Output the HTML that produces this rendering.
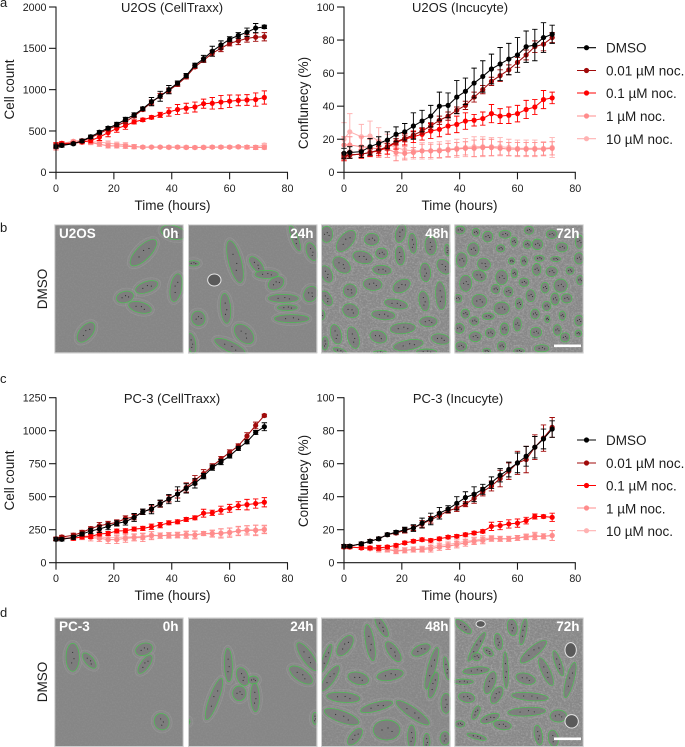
<!DOCTYPE html>
<html lang="en">
<head>
<meta charset="utf-8">
<title>Cell growth under nocodazole</title>
<style>
html,body{margin:0;padding:0;background:#fff;width:685px;height:747px;overflow:hidden}
svg#fig{display:block;font-family:"Liberation Sans",Arial,sans-serif;fill:#1c1c1c}
.tick{font-size:10.7px}
.ax{font-size:13.5px}
.ttl{font-size:13px}
.leg{font-size:13.5px}
.ltr{font-size:13px}
.stamp{font-size:13.5px;font-weight:bold;fill:#fff}
</style>
</head>
<body>
<svg id="fig" xmlns="http://www.w3.org/2000/svg" width="685" height="747" viewBox="0 0 685 747">
<defs>
<filter id="grain" x="0" y="0" width="100%" height="100%">
<feTurbulence type="fractalNoise" baseFrequency="0.22" numOctaves="2" seed="7"/>
<feColorMatrix type="matrix" values="0 0 0 0 .42  0 0 0 0 .42  0 0 0 0 .42  1.9 0 0 0 -.72"/>
</filter>
<filter id="grain2" x="0" y="0" width="100%" height="100%">
<feTurbulence type="fractalNoise" baseFrequency="0.16 0.2" numOctaves="2" seed="3"/>
<feColorMatrix type="matrix" values="0 0 0 0 .72  0 0 0 0 .72  0 0 0 0 .72  2.2 0 0 0 -1"/>
</filter>
</defs>

<g id="charts"></g>

<g>
<text class="ltr" x="0" y="7">a</text>
<text class="ltr" x="0" y="232">b</text>
<text class="ltr" x="0" y="383">c</text>
<text class="ltr" x="0" y="617">d</text>
</g>

<g>
<text class="ttl" x="172" y="12" text-anchor="middle">U2OS (CellTraxx)</text>
<text class="ttl" x="460" y="12" text-anchor="middle">U2OS (Incucyte)</text>
<text class="ttl" x="172" y="403" text-anchor="middle">PC-3 (CellTraxx)</text>
<text class="ttl" x="458" y="403" text-anchor="middle">PC-3 (Incucyte)</text>
</g>

<g>
<text class="ax" x="172.5" y="210" text-anchor="middle">Time (hours)</text>
<text class="ax" x="459.5" y="210" text-anchor="middle">Time (hours)</text>
<text class="ax" x="172.5" y="600" text-anchor="middle">Time (hours)</text>
<text class="ax" x="459.5" y="600" text-anchor="middle">Time (hours)</text>
<text class="ax" transform="translate(14,89.5) rotate(-90)" text-anchor="middle">Cell count</text>
<text class="ax" transform="translate(308,103) rotate(-90)" text-anchor="middle">Conflunecy (%)</text>
<text class="ax" transform="translate(14,480.5) rotate(-90)" text-anchor="middle">Cell count</text>
<text class="ax" transform="translate(308,481) rotate(-90)" text-anchor="middle">Conflunecy (%)</text>
<text class="ax" transform="translate(47,289) rotate(-90)" text-anchor="middle">DMSO</text>
<text class="ax" transform="translate(47,682) rotate(-90)" text-anchor="middle">DMSO</text>
</g>

<g>
<text class="leg" x="606" y="52.5">DMSO</text>
<text class="leg" x="606" y="75.5">0.01 µM noc.</text>
<text class="leg" x="606" y="98">0.1 µM noc.</text>
<text class="leg" x="606" y="121">1 µM noc.</text>
<text class="leg" x="606" y="144">10 µM noc.</text>
</g>
<g>
<text class="leg" x="606" y="445">DMSO</text>
<text class="leg" x="606" y="468">0.01 µM noc.</text>
<text class="leg" x="606" y="490.5">0.1 µM noc.</text>
<text class="leg" x="606" y="513.5">1 µM noc.</text>
<text class="leg" x="606" y="536">10 µM noc.</text>
</g>

<g id="micrographs"></g>

<g>
<text class="stamp" x="59" y="238">U2OS</text>
<text class="stamp" x="178.5" y="238" text-anchor="end">0h</text>
<text class="stamp" x="313.5" y="238" text-anchor="end">24h</text>
<text class="stamp" x="448.5" y="238" text-anchor="end">48h</text>
<text class="stamp" x="579.5" y="238" text-anchor="end">72h</text>
<rect x="554" y="344.5" width="27" height="2.6" fill="#fff"/>
<text class="stamp" x="59" y="631">PC-3</text>
<text class="stamp" x="178.5" y="631" text-anchor="end">0h</text>
<text class="stamp" x="313.5" y="631" text-anchor="end">24h</text>
<text class="stamp" x="448.5" y="631" text-anchor="end">48h</text>
<text class="stamp" x="579.5" y="631" text-anchor="end">72h</text>
<rect x="554" y="737.5" width="27" height="2.6" fill="#fff"/>
</g>
</svg>

<script>
/* ---------- chart data ---------- */
const hours = [0,2,6,9,12,15,18,21,24,27,30,33,36,39,42,45,48,51,54,57,60,63,66,69,72];
const seriesNames = ["DMSO","0.01 µM noc.","0.1 µM noc.","1 µM noc.","10 µM noc."];
const xTickLabels = [0,20,40,60,80];
const u2osCountTicks = [0,500,1000,1500,2000];
const pc3CountTicks = [0,250,500,750,1000,1250];
const confluencyTicks = [0,20,40,60,80,100];

const u2osCountDmso = [310,325,345,380,430,485,535,580,640,695,770,855,920,1000,1080,1170,1295,1375,1465,1540,1610,1655,1695,1745,1760];
const u2osCountDmsoErr = [20,20,15,20,20,20,20,25,25,25,20,50,60,50,25,25,25,40,60,50,30,35,50,55,20];
const u2osCount001 = [320,335,350,375,420,470,520,565,610,680,760,845,925,990,1065,1155,1275,1355,1440,1500,1560,1590,1620,1635,1640];
const u2osCount001Err = [25,20,15,15,15,15,15,20,20,20,20,30,30,30,25,25,20,25,35,40,30,45,45,50,50];
const u2osCount01 = [330,350,350,365,385,425,480,530,565,610,635,665,695,730,760,775,790,830,835,850,860,870,875,880,905];
const u2osCount01Err = [30,20,15,20,30,40,50,45,45,25,20,20,30,50,60,60,60,55,70,80,75,65,65,80,80];
const u2osCount1 = [290,340,375,385,360,340,320,320,315,310,305,305,305,305,305,300,300,300,305,305,305,310,305,300,300];
const u2osCount1Err = [20,15,15,20,25,25,25,25,25,25,15,10,10,15,15,15,15,15,15,15,15,15,20,25,20];
const u2osCount10 = [330,350,375,380,370,365,355,340,335,310,305,305,305,300,305,305,300,305,305,305,305,305,305,305,330];
const u2osCount10Err = [20,15,15,15,20,20,25,25,25,20,15,10,10,15,15,15,15,15,15,15,15,15,20,20,20];

const u2osConfDmso = [11.5,12,12.5,15.5,17.5,19.5,23,24.5,28,31,34,40,40.5,45.5,49,54,58,62.5,65.5,68.5,71,76,77,81.5,83.5];
const u2osConfDmsoErr = [3,3.5,3.5,5,4,5,4.5,5,8,6.5,6.5,8.5,7.5,10,8,9,9.5,9,10,9.5,10.5,9.5,9.5,9,5.5];
const u2osConf001 = [10,10.5,11,12,13.5,15.5,18.5,20.5,22.5,25,28,31.5,34,37.5,40.5,45.5,50,55,58.5,62,66.5,71,76,77.5,81.5];
const u2osConf001Err = [2,2,2,2,2,2,2,2,2,2,2,2.5,2.5,2,2.5,3,2.5,2.5,3.5,3,3,3,3.5,4,3];
const u2osConf01 = [9,10.5,11,12,13,15,18,20,21.5,23,25,26,28,29,31,31.5,32.5,35.5,34,34.5,35.5,38,39.5,44,45];
const u2osConf01Err = [2,2,2.5,2.5,3,4,4,3.5,3.5,3.5,4.5,4.5,5,5,5,3.5,4,5.5,4.5,5,5,5.5,4.5,5.5,3.5];
const u2osConf1 = [16.5,16.5,15.5,15,14,14,12,11.5,12,13,13,13,13.5,14,14.5,14.5,15,15,14.5,14,14,14,14,14,14.5];
const u2osConf1Err = [5,5,6,5,5,5,5,4,3,4,4,4,4,4,4,5,5,5,4,4,4,4,4,4,4];
const u2osConf10 = [20,24.5,21.5,22,19,17,15,13.5,13,13,13,13.5,14,14.5,15,15.5,15.5,15.5,15.5,15,14.5,14.5,14.5,14.5,15];
const u2osConf10Err = [10,11,7.5,9,8,6,5,5,5,5,5,5,5,5.5,5.5,6,6,5.5,5.5,5,5,5,5,4,6];

const pc3CountDmso = [177,177,192,217,240,255,275,298,310,343,386,406,449,482,520,563,601,656,720,763,808,866,916,987,1030];
const pc3CountDmsoErr = [12,12,15,15,20,25,25,20,25,30,20,35,25,35,55,35,35,20,20,20,15,15,15,15,30];
const pc3Count001 = [182,195,208,230,258,280,293,305,335,345,385,410,445,485,520,570,625,675,730,785,835,885,960,1040,1115];
const pc3Count001Err = [12,12,15,15,15,25,20,20,20,20,20,25,25,25,30,35,35,30,20,20,20,15,25,25,10];
const pc3Count01 = [178,185,185,195,198,218,222,240,242,255,260,272,285,302,310,328,340,375,378,398,412,432,440,448,458];
const pc3Count01Err = [10,10,15,15,15,15,15,15,15,15,15,20,20,15,15,15,15,30,20,30,30,30,40,35,35];
const pc3Count1 = [178,185,185,195,190,185,175,175,185,190,190,205,205,208,208,210,210,222,222,222,228,240,245,245,250];
const pc3Count1Err = [10,10,15,20,25,25,30,30,30,25,30,30,20,20,20,25,30,15,25,35,35,35,35,40,30];
const pc3Count10 = [178,185,190,200,205,195,190,190,195,195,200,210,205,205,212,215,212,220,218,225,232,240,250,248,255];
const pc3Count10Err = [10,10,15,15,20,20,25,25,25,25,25,25,20,20,20,25,25,15,25,30,30,30,30,35,30];

const pc3ConfDmso = [10,10,11.5,13,14.5,17,18.5,20,21,24,26.5,30,32.5,36,39.5,41.5,44.5,48.5,53,56.5,60.5,64.5,70,75,81];
const pc3ConfDmsoErr = [1,1,1,1,1,1,1,1.5,2,3,3.5,3.5,2,4,3.5,4.5,3,3.5,4,4.5,6,6,6.5,6,5];
const pc3Conf001 = [10,10,11.5,13,14.5,17,18,19.5,21,23.5,26,28.5,31.5,33,35.5,39,43,46.5,51,55.5,60.5,62.5,70,75.5,82];
const pc3Conf001Err = [1,1,1,1,1,1,1,1.5,1.5,2,2,2,1.5,2,1.5,3,2.5,3,5,5,7,8,7.5,8,6];
const pc3Conf01 = [9.5,9.5,9,9,9,9.5,10.5,12,13,14,13.5,14.5,15.5,16,17,18,19,22,22.5,23.5,24,25.5,28,28,27.5];
const pc3Conf01Err = [1,1,1,1,1.5,1,1,1,1,1,1,1,1,1,1,1,1,2.5,2.5,2.5,2.5,2,1.5,1,2.5];
const pc3Conf1 = [10,9.5,9,8.5,8,8,7,7.5,8,8,8.5,9.5,10,11,12,13,13.5,14.5,14.5,14.5,15,15.5,16,16,16.5];
const pc3Conf1Err = [1,1,1,1,1.5,1.5,1.5,1.5,1.5,1.5,2,2,2,2,2,2,2,1.5,1.5,1.5,1.5,1.5,2,1.5,3];
const pc3Conf10 = [10,9.5,9,8.5,8.5,8,7.5,7.5,8,8.5,9.5,10.5,11,12,13,13.5,14.5,15,14.5,14.5,15,16,16.5,16,16.5];
const pc3Conf10Err = [1,1,1,1,1,1,1.5,1.5,1.5,1.5,2,2,2,2,2,2,2,1.5,1.5,1.5,1.5,1.5,2,1.5,3];

/* ---------- micrograph outlines: centre x, centre y, radius a, radius b, angle (micrograph-crop units) ---------- */
const outlinesB0 = "430,113,52,21,-45 528,218,42,17,-80 440,216,35,16,-20 375,246,26,17,-15 420,277,35,16,15 258,352,35,19,-50 520,52,38,20,15 572,60,8,12,0";
const outlinesB24 = "705,140,65,19,75 770,150,30,14,50 800,178,35,12,0 828,205,25,18,-30 677,280,45,15,85 595,310,20,22,-20 732,357,35,22,45 850,250,45,12,0 862,278,30,9,0 875,311,52,12,0 932,237,20,24,30 575,385,30,12,80 690,395,50,15,25 885,70,40,10,70 935,110,28,15,70 580,145,18,8,0";
const outlinesB48 = "20,58,18,24,0 78,78,38,20,-50 155,73,22,18,0 242,55,28,15,-75 278,85,30,12,85 332,92,28,17,85 128,127,30,18,15 185,115,18,16,0 240,122,28,14,85 382,105,18,8,85 65,150,30,20,40 186,165,28,14,5 316,172,28,16,85 372,155,25,18,50 20,177,26,16,65 158,208,28,18,5 245,213,28,18,-30 90,227,20,20,30 362,242,42,15,85 312,258,30,15,80 20,250,24,14,60 228,267,35,14,10 92,287,25,20,25 190,300,35,14,5 325,320,26,15,0 248,340,38,16,-5 48,358,30,16,75 100,368,33,17,75 175,365,26,18,20 362,372,28,15,10 265,390,45,15,-10 5,300,15,10,90 15,385,20,10,90 180,412,20,5,0 320,410,30,8,0 60,408,22,8,20";
const outlinesB72 = "420,45,15,12,0 468,52,12,12,0 503,65,15,16,0 555,58,18,12,0 582,80,10,14,0 627,46,14,12,0 695,58,16,13,0 622,88,12,13,0 652,88,16,16,0 542,100,13,11,0 460,103,17,20,0 726,97,17,14,0 778,80,12,20,0 425,135,16,22,0 492,148,20,18,30 575,138,10,10,0 612,138,10,14,0 658,130,15,9,0 707,132,15,8,0 777,130,14,17,0 650,163,13,18,0 695,170,17,15,0 750,167,12,11,0 583,175,10,14,0 478,182,21,16,20 545,187,18,22,0 437,205,18,24,0 612,202,15,13,0 722,212,20,20,0 527,222,13,14,0 565,230,14,15,0 675,218,12,16,0 632,242,14,18,0 780,195,10,14,0 414,250,12,12,0 478,258,22,20,0 705,252,13,18,0 740,250,16,14,0 597,266,11,16,0 680,273,13,14,0 545,280,23,19,0 436,296,13,14,0 505,304,18,10,0 645,297,13,15,0 727,302,10,14,0 463,318,14,13,0 682,312,8,11,0 777,317,13,16,0 592,328,12,20,0 418,340,15,15,0 553,342,13,18,0 648,352,17,15,0 712,345,12,16,0 511,354,15,14,0 466,365,18,15,0 735,367,14,14,0 775,355,10,10,0 423,394,17,14,0 545,393,13,14,0 665,400,22,11,0 597,408,16,8,0 500,408,12,8,0";
const outlinesD0 = "218,172,42,20,90 268,182,28,13,50 432,148,26,18,-20 435,193,32,13,-55 485,365,25,22,70";
const outlinesD24 = "685,195,50,12,88 642,297,66,14,-70 728,230,28,17,70 718,280,20,22,0 760,240,15,12,0 765,292,43,13,88 922,170,50,16,55 903,225,40,18,35 565,365,8,5,90 945,355,18,8,90";
const outlinesD48 = "75,137,35,18,-55 150,128,55,13,80 185,80,35,12,60 220,155,35,15,55 303,150,30,15,-25 18,175,45,10,-70 30,235,45,14,-55 115,235,32,18,15 210,225,40,16,-10 335,205,65,12,-75 340,255,40,12,-75 380,205,35,8,80 70,292,50,15,5 170,320,50,13,-15 278,338,60,15,35 65,350,55,17,20 378,310,30,15,90 200,390,40,30,0 275,410,35,12,90 320,425,25,10,90 375,415,20,15,90 105,410,30,15,-50";
const outlinesD72 = "430,80,30,12,40 470,140,50,10,-60 505,155,18,10,40 470,170,15,12,0 535,125,25,12,80 577,82,25,15,80 610,95,40,9,-80 640,155,50,15,-40 678,215,45,13,65 715,190,40,10,70 750,240,55,12,-75 557,210,55,8,88 510,248,35,15,-70 468,212,40,11,-5 430,245,30,8,0 617,236,30,16,15 530,285,28,15,-60 630,290,55,12,5 440,292,25,15,10 620,335,57,13,-3 468,338,22,10,-65 510,355,30,12,-20 547,375,27,14,10 420,372,15,10,0 715,348,25,18,0 470,410,30,8,15 655,405,30,12,80 700,415,25,15,80";
const whiteRingsB24 = "643,195,20,18";
const whiteRingsD72 = "755,364,20,20 752,150,17,22 482,72,14,10";
const whiteRingsB0 = "";

/* ---------- drawing ---------- */
const NS = "http://www.w3.org/2000/svg";
const colors = ["#000000","#a00a0a","#ff0000","#ff8c8c","#ffb2b2"];
const chartsRoot = document.getElementById("charts");
const microRoot = document.getElementById("micrographs");

function el(tag, attrs, parent) {
  const n = document.createElementNS(NS, tag);
  for (const k in attrs) n.setAttribute(k, attrs[k]);
  parent.appendChild(n);
  return n;
}

function drawChart(name, box, yMax, yTicks, values, errors) {
  const xs = v => box.left + (v / 80) * (box.right - box.left);
  const ys = v => box.bottom - (v / yMax) * (box.bottom - box.top);
  const g = el("g", {}, chartsRoot);
  
  

  for (let s = values.length - 1; s >= 0; s--) {
    const sg = el("g", {}, g);
    
    
    const col = colors[s];
    values[s].forEach((v, i) => {
      const x = xs(hours[i]);
      const lo = ys(v - errors[s][i]);
      const hi = ys(v + errors[s][i]);
      const bar = el("path", {d:`M${x} ${lo}V${hi}M${x-2.7} ${lo}h5.4M${x-2.7} ${hi}h5.4`, stroke:col, "stroke-width":0.95, fill:"none"}, sg);
      
      
    });
    const line = el("polyline", {points:values[s].map((v,i)=>xs(hours[i])+","+ys(v)).join(" "), fill:"none", stroke:col, "stroke-width":1.05}, sg);
    
    
    values[s].forEach((v, i) => {
      const dot = el("circle", {cx:xs(hours[i]), cy:ys(v), r:2.6, fill:col}, sg);
      
      
    });
  }

  const axis = el("g", {stroke:"#1a1a1a","stroke-width":1.1,fill:"none"}, g);
  
  
  const yLine = el("line", {x1:box.left, x2:box.left, y1:box.top-0.5, y2:box.bottom+0.5}, axis);
  
  
  const xLine = el("line", {x1:box.left-0.5, x2:box.right+0.5, y1:box.bottom, y2:box.bottom}, axis);
  
  

  xTickLabels.forEach(t => {
    const mark = el("line", {x1:xs(t), x2:xs(t), y1:box.bottom, y2:box.bottom+7}, axis);
    
    
    const lab = el("text", {x:xs(t), y:box.bottom+19.5, "text-anchor":"middle", class:"tick"}, g);
    
    
    lab.textContent = t;
  });
  yTicks.forEach(t => {
    const mark = el("line", {x1:box.left-7, x2:box.left, y1:ys(t), y2:ys(t)}, axis);
    
    
    const lab = el("text", {x:box.left-9.5, y:ys(t)+3.8, "text-anchor":"end", class:"tick"}, g);
    
    
    lab.textContent = t;
  });
}

function drawLegend(name, rowCentres) {
  const g = el("g", {}, chartsRoot);
  
  
  rowCentres.forEach((y, i) => {
    const key = el("line", {x1:577, x2:596, y1:y, y2:y, stroke:colors[i], "stroke-width":1.05}, g);
    
    
    const dot = el("circle", {cx:586.5, cy:y, r:2.6, fill:colors[i]}, g);
    
    
  });
}

const boxA1 = {left:56, right:287.5, top:7, bottom:172.3};
const boxA2 = {left:344, right:575.3, top:7, bottom:172.3};
const boxC1 = {left:56, right:287.5, top:397.7, bottom:562.7};
const boxC2 = {left:344, right:575.3, top:397.7, bottom:562.7};

drawChart('u2os-celltraxx-chart', boxA1, 2000, u2osCountTicks,
  [u2osCountDmso,u2osCount001,u2osCount01,u2osCount1,u2osCount10],
  [u2osCountDmsoErr,u2osCount001Err,u2osCount01Err,u2osCount1Err,u2osCount10Err]);
drawChart('u2os-incucyte-chart', boxA2, 100, confluencyTicks,
  [u2osConfDmso,u2osConf001,u2osConf01,u2osConf1,u2osConf10],
  [u2osConfDmsoErr,u2osConf001Err,u2osConf01Err,u2osConf1Err,u2osConf10Err]);
drawChart('pc3-celltraxx-chart', boxC1, 1250, pc3CountTicks,
  [pc3CountDmso,pc3Count001,pc3Count01,pc3Count1,pc3Count10],
  [pc3CountDmsoErr,pc3Count001Err,pc3Count01Err,pc3Count1Err,pc3Count10Err]);
drawChart('pc3-incucyte-chart', boxC2, 100, confluencyTicks,
  [pc3ConfDmso,pc3Conf001,pc3Conf01,pc3Conf1,pc3Conf10],
  [pc3ConfDmsoErr,pc3Conf001Err,pc3Conf01Err,pc3Conf1Err,pc3Conf10Err]);
drawLegend('legend-keys-u2os', [47.7,70.5,93,116,138.7]);
drawLegend('legend-keys-pc3', [440,463,485.5,508,530.7]);

function parseList(str) {
  return str.trim() ? str.trim().split(/\s+/).map(r => r.split(",").map(Number)) : [];
}

function drawPanel(name, px, py, vx, vy, h, outlines, rings, density) {
  const panel = el("svg", {x:px, y:py, width:129.33, height:h/3, viewBox:`${vx} ${vy} 388 ${h}`, preserveAspectRatio:"none"}, microRoot);
  
  
  const bg = el("rect", {x:vx, y:vy, width:388, height:h, fill:"#868686"}, panel);
  
  
  const cells = parseList(outlines);
  cells.forEach(c => {
    const rot = `rotate(${c[4]} ${c[0]} ${c[1]})`;
    const halo = el("ellipse", {cx:c[0], cy:c[1], rx:c[2]+9, ry:c[3]+9, transform:rot, fill:"#8b8b8b", stroke:"#9c9c9c", "stroke-width":2, opacity:0.65}, panel);
    
    
  });
  const n1 = el("rect", {x:vx, y:vy, width:388, height:h, filter:"url(#grain)", opacity:.2 + density * .25}, panel);
  
  
  if (density > 0) {
    const n2 = el("rect", {x:vx, y:vy, width:388, height:h, filter:"url(#grain2)", opacity:density * .3}, panel);
    
    
  }
  cells.forEach(c => {
    const rot = `rotate(${c[4]} ${c[0]} ${c[1]})`;
    const cell = el("ellipse", {cx:c[0], cy:c[1], rx:c[2], ry:c[3], transform:rot, fill:"#787878", "fill-opacity":.7, stroke:"#44c64b", "stroke-width":1.9}, panel);
    
    
    const specks = el("path", {d:`M${c[0]-c[2]*.35} ${c[1]}h.1M${c[0]+c[2]*.1} ${c[1]-c[3]*.2}h.1M${c[0]+c[2]*.4} ${c[1]+c[3]*.15}h.1`, transform:rot, stroke:"#303030", "stroke-width":3.4, "stroke-linecap":"round", fill:"none"}, panel);
    
    
  });
  parseList(rings).forEach(r => {
    const ring = el("ellipse", {cx:r[0], cy:r[1], rx:r[2], ry:r[3], fill:"#5a5a5a", stroke:"#e6e6e6", "stroke-width":3}, panel);
    
    
  });
  const frame = el("rect", {x:vx+1.5, y:vy+1.5, width:385, height:h-3, fill:"none", stroke:"#cfcfcf", "stroke-width":3}, panel);
  
  
}

drawPanel('micrograph-u2os-0h', 54.33, 224.33, 163, 28, 387, outlinesB0, whiteRingsB0, 0);
drawPanel('micrograph-u2os-24h', 188, 224.33, 564, 28, 387, outlinesB24, whiteRingsB24, 0);
drawPanel('micrograph-u2os-48h', 321, 224.33, 3, 28, 387, outlinesB48, "", 1);
drawPanel('micrograph-u2os-72h', 454.33, 224.33, 403, 28, 387, outlinesB72, "", 1);
drawPanel('micrograph-pc3-0h', 54.33, 617.67, 163, 53, 388, outlinesD0, "", 0);
drawPanel('micrograph-pc3-24h', 188, 617.67, 564, 53, 388, outlinesD24, "", 0);
drawPanel('micrograph-pc3-48h', 321, 617.67, 3, 53, 388, outlinesD48, "", 0.5);
drawPanel('micrograph-pc3-72h', 454.33, 617.67, 403, 53, 388, outlinesD72, whiteRingsD72, 1);
</script>
</body>
</html>
